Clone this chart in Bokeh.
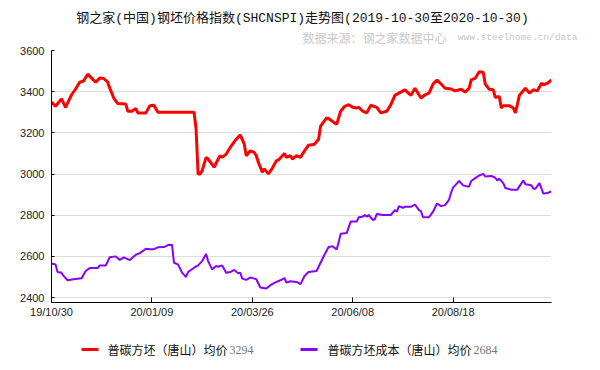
from bokeh.plotting import figure
from bokeh.layouts import column
from bokeh.models import ColumnDataSource, Range1d, FixedTicker
from bokeh.core.properties import value
from bokeh.embed import file_html
from bokeh.resources import INLINE

# ---------------- data ----------------
title_text = "钢之家(中国)钢坯价格指数(SHCNSPI)走势图(2019-10-30至2020-10-30)"
source_text = "数据来源：钢之家数据中心"
source_url = "www.steelhome.cn/data"

tick_pos = [0, 50, 100, 150, 200]
tick_labels = ["19/10/30", "20/01/09", "20/03/26", "20/06/08", "20/08/18"]
y_ticks = [2400, 2600, 2800, 3000, 3200, 3400, 3600]

series_names = ["普碳方坯（唐山）均价", "普碳方坯成本（唐山）均价"]
series_avgs = ["3294", "2684"]

red_idx = [0, 2, 5, 7, 10, 12, 14, 16, 18, 20, 22, 24, 26, 28, 29, 31, 33, 37, 38, 40,
           42, 43, 47, 49, 51, 53, 71, 72, 73, 74, 75, 77, 78, 81, 83, 84, 85, 87, 89, 92,
           94, 96, 97, 99, 101, 102, 103, 105, 106, 108, 110, 112, 113, 116, 117, 119, 120,
           122, 124, 126, 128, 131, 133, 134, 137, 138, 142, 144, 146, 148, 150, 152, 153,
           155, 157, 159, 162, 164, 167, 169, 171, 173, 176, 179, 181, 184, 186, 188, 190,
           192, 194, 196, 199, 201, 204, 206, 208, 209, 211, 213, 215, 216, 218, 220, 221,
           223, 224, 225, 228, 230, 231, 232, 233, 236, 238, 240, 242, 244, 245, 247, 249]
red_val = [3350, 3329, 3365, 3324, 3385, 3413, 3446, 3452, 3485, 3466, 3446, 3466, 3464, 3446,
           3417, 3369, 3342, 3340, 3305, 3305, 3318, 3297, 3297, 3332, 3334, 3300, 3300, 3220,
           3000, 3000, 3016, 3081, 3073, 3033, 3073, 3089, 3081, 3097, 3129, 3169, 3190, 3145,
           3089, 3113, 3105, 3089, 3057, 3009, 3025, 3001, 3029, 3065, 3068, 3100, 3081, 3089,
           3073, 3089, 3081, 3113, 3140, 3145, 3169, 3233, 3273, 3270, 3241, 3305, 3329, 3337,
           3324, 3321, 3324, 3305, 3297, 3334, 3324, 3297, 3305, 3337, 3382, 3393, 3409, 3382,
           3417, 3369, 3385, 3393, 3437, 3457, 3437, 3417, 3413, 3404, 3412, 3398, 3417, 3457,
           3465, 3497, 3494, 3437, 3412, 3409, 3372, 3377, 3321, 3332, 3332, 3321, 3297, 3337,
           3382, 3417, 3393, 3409, 3404, 3441, 3433, 3441, 3457]

purple_idx = [0, 2, 3, 5, 6, 8, 11, 15, 17, 19, 23, 24, 27, 29, 32, 34, 36, 39, 42, 44, 47,
              49, 51, 53, 56, 58, 60, 61, 63, 65, 67, 68, 71, 73, 75, 77, 78, 80, 82, 83, 85,
              87, 89, 91, 93, 94, 95, 97, 99, 101, 102, 104, 107, 109, 112, 114, 116, 117, 119,
              122, 124, 126, 128, 132, 134, 136, 138, 140, 142, 143, 144, 147, 149, 152, 153,
              155, 156, 157, 158, 160, 161, 162, 165, 169, 171, 172, 173, 175, 176, 179, 181,
              183, 184, 185, 188, 190, 192, 194, 196, 198, 199, 200, 201, 203, 205, 207, 208,
              209, 211, 213, 215, 216, 219, 221, 222, 223, 225, 226, 229, 232, 233, 235, 236,
              239, 240, 241, 243, 244, 245, 247, 249]
purple_val = [2565, 2561, 2524, 2520, 2505, 2484, 2489, 2494, 2529, 2543, 2543, 2556, 2556,
              2596, 2600, 2583, 2595, 2582, 2608, 2616, 2637, 2635, 2635, 2644, 2645, 2655,
              2657, 2569, 2561, 2521, 2500, 2524, 2545, 2556, 2577, 2612, 2577, 2537, 2553,
              2550, 2556, 2521, 2524, 2534, 2518, 2521, 2492, 2486, 2497, 2492, 2489, 2449,
              2444, 2460, 2476, 2484, 2495, 2473, 2479, 2476, 2465, 2505, 2524, 2529, 2569,
              2609, 2646, 2649, 2633, 2668, 2710, 2713, 2769, 2769, 2790, 2793, 2801, 2793,
              2801, 2777, 2780, 2806, 2801, 2801, 2825, 2817, 2844, 2836, 2841, 2841, 2852,
              2825, 2820, 2790, 2790, 2817, 2857, 2844, 2849, 2876, 2910, 2935, 2945, 2966,
              2945, 2940, 2940, 2966, 2980, 2993, 3001, 2988, 2991, 2982, 2969, 2977, 2956,
              2932, 2924, 2924, 2940, 2969, 2950, 2945, 2929, 2929, 2956, 2929, 2905, 2908,
              2916]

RED = "#ff0000"
PURPLE = "#8800ff"
W = 600


def blank(h):
    f = figure(width=W, height=h, output_backend="svg", toolbar_location=None,
               x_range=Range1d(0, W), y_range=Range1d(h, 0),
               x_axis_type=None, y_axis_type=None,
               min_border=0, min_border_left=0, min_border_right=0,
               min_border_top=0, min_border_bottom=0)
    f.frame_align = False
    f.outline_line_color = None
    f.xgrid.grid_line_color = None
    f.ygrid.grid_line_color = None
    f.background_fill_color = "white"
    f.border_fill_color = "white"
    return f


# ---------------- header: title + source ----------------
header = blank(46)
header.text(x=[302], y=[18], text=[title_text], text_align="center", text_baseline="middle",
            text_font=value("'Liberation Mono', 'Noto Sans CJK SC'"), text_font_size="13px",
            text_color="#111111")
header.text(x=[302], y=[37], text=[source_text], text_align="left", text_baseline="middle",
            text_font=value("Noto Sans CJK SC"), text_font_size="12px", text_color="#c8c8c8")
header.text(x=[577], y=[37], text=[source_url], text_align="right", text_baseline="middle",
            text_font=value("Liberation Mono"), text_font_size="9.5px", text_color="#c8c8c8")

# ---------------- main chart ----------------
p = figure(width=W, height=274, output_backend="svg", toolbar_location=None,
           x_range=Range1d(0, 249), y_range=Range1d(2376, 3600),
           min_border_left=51, min_border_right=49, min_border_top=4, min_border_bottom=15)
p.frame_align = False
p.outline_line_color = None
p.background_fill_color = "white"
p.border_fill_color = "white"

p.xgrid.grid_line_color = None
p.ygrid.grid_line_color = "#dcdcdc"
p.ygrid.grid_line_width = 1

p.yaxis.ticker = FixedTicker(ticks=y_ticks)
p.yaxis.major_tick_in = 3
p.yaxis.major_tick_out = 0
p.yaxis.minor_tick_line_color = None
p.yaxis.major_label_standoff = 7
p.yaxis.major_label_text_font = "Liberation Sans"
p.yaxis.major_label_text_font_size = "11px"
p.yaxis.major_label_text_color = "#222222"
p.yaxis.axis_line_color = "black"

p.xaxis.ticker = FixedTicker(ticks=tick_pos)
p.xaxis.major_label_overrides = {t: l for t, l in zip(tick_pos, tick_labels)}
p.xaxis.major_tick_in = 5
p.xaxis.major_tick_out = 0
p.xaxis.minor_tick_line_color = None
p.xaxis.major_label_standoff = 3
p.xaxis.major_label_text_font = "Liberation Sans"
p.xaxis.major_label_text_font_size = "11px"
p.xaxis.major_label_text_color = "#222222"
p.xaxis.axis_line_color = "black"

src_r = ColumnDataSource(dict(x=red_idx, y=red_val))
src_p = ColumnDataSource(dict(x=purple_idx, y=purple_val))
p.line("x", "y", source=src_p, line_color=PURPLE, line_width=2)
p.line("x", "y", source=src_r, line_color=RED, line_width=3)

# ---------------- footer: legend ----------------
footer = blank(50)
colors = [RED, PURPLE]
swatch_x0 = [81, 300]
text_x = [107, 327]
avg_x = [229, 473]
footer.segment(x0=swatch_x0, y0=[29, 29], x1=[x + 17 for x in swatch_x0], y1=[29, 29],
               line_color=colors, line_width=3)
footer.text(x=text_x, y=[29, 29], text=series_names, text_align="left", text_baseline="middle",
            text_font=value("Noto Sans CJK SC"), text_font_size="12px", text_color="#111111")
footer.text(x=avg_x, y=[29, 29], text=series_avgs, text_align="left", text_baseline="middle",
            text_font=value("Liberation Sans Narrow"), text_font_size="12px", text_color="#777777")

layout = column(header, p, footer, spacing=0)
open("out.html", "w").write(file_html(layout, INLINE))
